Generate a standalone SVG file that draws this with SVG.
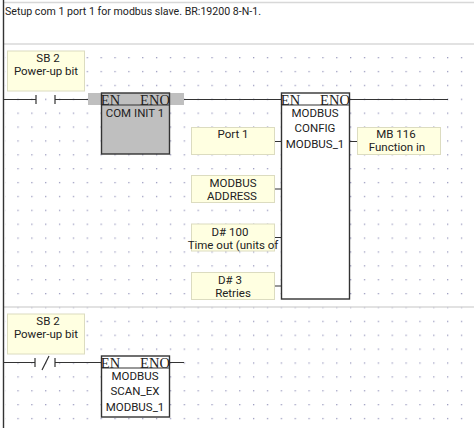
<svg xmlns="http://www.w3.org/2000/svg" width="474" height="428" viewBox="0 0 474 428">
<style>
text{font-family:Roboto,"Liberation Sans",Arial,sans-serif;font-size:11.5px;fill:#222;text-anchor:middle}
.note{fill:#ffffe1;stroke:#dcdcc0;stroke-width:1}
.box{fill:#fff;stroke:#333;stroke-width:1.4}
.gbox{fill:#bfbfbf;stroke:#333;stroke-width:1.4}
.w{fill:none;stroke:#333;stroke-width:1.2}
text.en{font-family:"Liberation Serif",serif;font-size:14.5px}
.sep{stroke:#d8d8d8;stroke-width:1.6}
</style>
<defs>
<pattern id="dots" x="3.5" y="1.5" width="13.86" height="13.88" patternUnits="userSpaceOnUse">
<rect x="0" y="0" width="1.3" height="1.3" fill="#9c9cc0"/>
</pattern>
</defs>
<rect width="474" height="428" fill="#fff"/>
<rect id="grid" x="5" y="46" width="469" height="382" fill="url(#dots)"/>
<line class="sep" x1="4" y1="2.5" x2="474" y2="2.5"/>
<line class="sep" x1="4" y1="44" x2="474" y2="44"/>
<line class="sep" x1="4" y1="307" x2="474" y2="307"/>
<line x1="3.5" y1="0" x2="3.5" y2="428" stroke="#333" stroke-width="1.4"/>
<text x="5" y="15" textLength="256" lengthAdjust="spacingAndGlyphs" style="text-anchor:start">Setup com 1 port 1 for modbus slave. BR:19200 8-N-1.</text>

<g id="connectors">
<path class="w" d="M4 99.500H36M36 95V104M55 95V104M55 99.500H101M169 99.500H282M350 99.500H448"/>
<path class="w" d="M274 141.500H282M350 141.500H358M274 189H282M274 237.500H282M274 286H282"/>
<path class="w" d="M4 362.500H35M35 358V367M55 358V367M55 362.500H101M169 362.500H184M42 370L49 356"/>
</g>

<g id="sb2-top"><rect class="note" x="7.500" y="51" width="77" height="40"/><text x="48" y="62">SB 2</text><text x="46" y="75">Power-up bit</text></g>
<g id="com-init">
<rect x="88" y="93" width="96" height="12" fill="#bfbfbf"/>
<rect class="gbox" x="101.500" y="93" width="68" height="61"/>
<line class="w" x1="101.500" y1="105" x2="169.500" y2="105"/>
<text class="en" x="110.500" y="104.500">EN</text><text class="en" x="155" y="104.500">ENO</text>
<text x="135" y="117">COM INIT 1</text>
</g>
<g id="modbus-config">
<rect class="box" x="281.500" y="93" width="68" height="206"/>
<line class="w" x1="281.500" y1="105" x2="349.500" y2="105"/>
<text class="en" x="290.500" y="104.500">EN</text><text class="en" x="335" y="104.500">ENO</text>
<text x="315" y="117">MODBUS</text><text x="315" y="132">CONFIG</text><text x="315" y="148">MODBUS_1</text>
</g>
<g id="port1"><rect class="note" x="191.500" y="127.500" width="83" height="27"/><text x="233" y="138">Port 1</text></g>
<g id="mb116"><rect class="note" x="357.500" y="127.500" width="83" height="27"/><text x="396" y="138">MB 116</text><text x="397" y="151">Function in</text></g>
<g id="address"><rect class="note" x="191.500" y="175.500" width="83" height="27"/><text x="233" y="187">MODBUS</text><text x="232" y="200">ADDRESS</text></g>
<g id="timeout"><rect class="note" x="191.500" y="224" width="83" height="27"/><text x="230" y="235.500">D# 100</text><text x="233" y="248.500">Time out (units of</text></g>
<g id="retries"><rect class="note" x="191.500" y="272.500" width="83" height="27"/><text x="230" y="284">D# 3</text><text x="233" y="297">Retries</text></g>

<g id="sb2-bottom"><rect class="note" x="7.500" y="314" width="77" height="40"/><text x="48" y="325">SB 2</text><text x="46" y="338">Power-up bit</text></g>
<g id="scan-ex">
<rect class="box" x="101.500" y="356" width="68" height="61"/>
<line class="w" x1="101.500" y1="368" x2="169.500" y2="368"/>
<text class="en" x="110.500" y="367.500">EN</text><text class="en" x="155" y="367.500">ENO</text>
<text x="135" y="380">MODBUS</text><text x="135" y="395">SCAN_EX</text><text x="135" y="411">MODBUS_1</text>
</g>
</svg>
